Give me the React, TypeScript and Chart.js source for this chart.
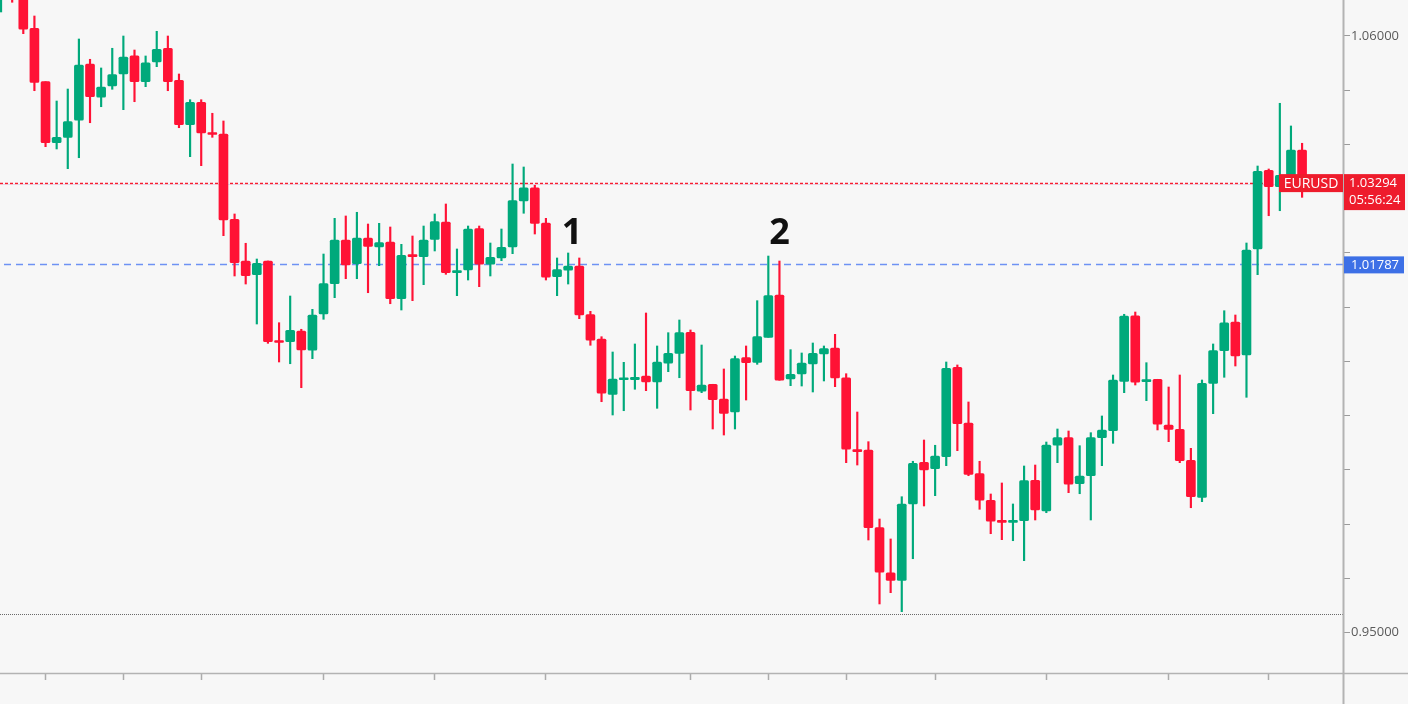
import React, { useEffect, useRef } from 'react';
import Chart from 'chart.js/auto';

// EURUSD candles, first candle sits at index -1 (partly above the chart top)
const firstIndex = -1;

const opens = [
  1.06734, 1.07121,
  1.06715, 1.06138, 1.05154, 1.04030, 1.04129, 1.04443, 1.05480, 1.04867, 1.05075, 1.05296,
  1.05633, 1.05154, 1.05517, 1.05770, 1.05180, 1.04362, 1.04774, 1.04209, 1.04190, 1.02618,
  1.01849, 1.01597, 1.01849, 1.00375, 1.00362, 1.00559, 1.00204, 1.00873, 1.01431, 1.02236,
  1.01800, 1.02273, 1.02107, 1.02200, 1.01155, 1.01954, 1.01929, 1.02249, 1.02568, 1.01634,
  1.01683, 1.02445, 1.01789, 1.01905, 1.02107, 1.02955, 1.03200, 1.02550, 1.01560, 1.01678,
  1.01757, 1.00860, 1.00412, 0.99392, 0.99660, 0.99662, 0.99730, 0.99619, 0.99964, 1.00148,
  1.00535, 0.99448, 0.99577, 0.99306, 0.99066, 1.00067, 0.99982, 1.00443, 1.01223, 0.99675,
  0.99767, 0.99951, 1.00135, 1.00246, 0.99698, 0.98366, 0.98366, 0.96934, 0.96104, 0.95964,
  0.97371, 0.98139, 0.98021, 0.98242, 0.99890, 0.98864, 0.97929, 0.97439, 0.97063, 0.97033,
  0.97063, 0.97807, 0.97242, 0.98453, 0.98593, 0.97745, 0.97892, 0.98593, 0.98722, 0.99632,
  1.00841, 0.99625, 0.99669, 0.98827, 0.98747, 0.98176, 0.97494, 0.99595, 1.00196, 1.00725,
  1.00117, 1.02071, 1.03521, 1.03219, 1.03429, 1.03895,
];

const highs = [
  1.07213, 1.07213,
  1.06807, 1.06365, 1.05154, 1.04798, 1.05019, 1.05941, 1.05567, 1.05407, 1.05770, 1.05996,
  1.05738, 1.05628, 1.06083, 1.05996, 1.05296, 1.04822, 1.04822, 1.04572, 1.04430, 1.02716,
  1.02176, 1.01886, 1.01849, 1.00712, 1.01204, 1.00591, 1.00959, 1.01978, 1.02636, 1.02679,
  1.02747, 1.02531, 1.02544, 1.02476, 1.02157, 1.02310, 1.02494, 1.02716, 1.02900, 1.02071,
  1.02494, 1.02494, 1.02181, 1.02439, 1.03637, 1.03582, 1.03245, 1.02636, 1.01905, 1.01997,
  1.01905, 1.00922, 1.00454, 1.00172, 0.99982, 1.00320, 1.00891, 1.00283, 1.00528, 1.00762,
  1.00578, 1.00301, 0.99577, 0.99859, 1.00098, 1.00283, 1.01118, 1.01941, 1.01849, 1.00215,
  1.00154, 1.00338, 1.00283, 1.00498, 0.99772, 0.99066, 0.98519, 0.97094, 0.96726, 0.97505,
  0.98158, 0.98550, 0.98453, 0.99988, 0.99933, 0.99251, 0.98158, 0.97555, 0.97758, 0.97371,
  0.98071, 0.98089, 0.98513, 0.98753, 0.98716, 0.98445, 0.98685, 0.98993, 0.99748, 1.00867,
  1.00909, 0.99975, 0.99669, 0.99527, 0.99748, 0.98397, 0.99656, 1.00320, 1.00933, 1.00854,
  1.02181, 1.03600, 1.03545, 1.04756, 1.04338, 1.04019,
];

const lows = [
  1.06439, 1.06618,
  1.06039, 1.04988, 1.03956, 1.03914, 1.03551, 1.03753, 1.04398, 1.04693, 1.05014, 1.04638,
  1.04785, 1.05062, 1.05431, 1.04988, 1.04306, 1.03772, 1.03606, 1.04129, 1.02316, 1.01573,
  1.01425, 1.00688, 1.00332, 0.99988, 0.99956, 0.99514, 1.00049, 1.00775, 1.01173, 1.01523,
  1.01523, 1.01265, 1.01763, 1.01062, 1.00946, 1.01118, 1.01413, 1.02034, 1.01604, 1.01210,
  1.01499, 1.01376, 1.01573, 1.01855, 1.01984, 1.02729, 1.02347, 1.01499, 1.01210, 1.01425,
  1.00786, 1.00296, 0.99256, 0.99011, 0.99090, 0.99485, 0.99459, 0.99134, 0.99809, 0.99698,
  0.99103, 0.99422, 0.98753, 0.98642, 0.98753, 0.99287, 0.99945, 1.00443, 0.99651, 0.99551,
  0.99545, 0.99435, 0.99638, 0.99533, 0.98132, 0.98089, 0.96707, 0.95528, 0.95736, 0.95386,
  0.96362, 0.97334, 0.97524, 0.98077, 0.98353, 0.97892, 0.97273, 0.96823, 0.96713, 0.96694,
  0.96326, 0.97076, 0.97210, 0.98132, 0.97579, 0.97560, 0.97076, 0.98077, 0.98489, 0.99422,
  0.99564, 0.99275, 0.98735, 0.98519, 0.98132, 0.97302, 0.97413, 0.99035, 0.99706, 0.99914,
  0.99337, 1.01597, 1.02684, 1.02776, 1.03379, 1.03023,
];

const closes = [
  1.07028, 1.06770,
  1.06120, 1.05143, 1.04030, 1.04129, 1.04417, 1.05462, 1.04878, 1.05056, 1.05283, 1.05609,
  1.05154, 1.05504, 1.05751, 1.05154, 1.04362, 1.04774, 1.04209, 1.04181, 1.02605, 1.01818,
  1.01578, 1.01807, 1.00362, 1.00347, 1.00572, 1.00209, 1.00854, 1.01431, 1.02236, 1.01776,
  1.02273, 1.02120, 1.02187, 1.01155, 1.01954, 1.01929, 1.02236, 1.02574, 1.01634, 1.01665,
  1.02439, 1.01789, 1.01918, 1.02102, 1.02961, 1.03200, 1.02544, 1.01549, 1.01689, 1.01757,
  1.00854, 1.00388, 0.99411, 0.99675, 0.99675, 0.99706, 0.99619, 0.99988, 1.00148, 1.00528,
  0.99459, 0.99564, 0.99293, 0.99042, 1.00049, 0.99975, 1.00454, 1.01210, 0.99651, 0.99761,
  0.99969, 1.00148, 1.00233, 0.99693, 0.98379, 0.98335, 0.96934, 0.96112, 0.95964, 0.97371,
  0.98121, 0.97997, 0.98255, 0.99872, 0.98851, 0.97918, 0.97439, 0.97052, 0.97033, 0.97063,
  0.97800, 0.97260, 0.98458, 0.98593, 0.97734, 0.97887, 0.98593, 0.98735, 0.99656, 1.00836,
  0.99614, 0.99651, 0.98840, 0.98747, 0.98169, 0.97505, 0.99595, 1.00196, 1.00712, 1.00098,
  1.02052, 1.03503, 1.03219, 1.03429, 1.03895, 1.03294,
];

const symbol = 'EURUSD';
const lastPrice = 1.03294;
const countdown = '05:56:24';
const levelPrice = 1.01787;
const swingLowPrice = 0.95343;

const markerLabels = ['1', '2'];
const markerIndex = [50.35, 69.0];
const markerBaseline = [1.02163, 1.02163];

const xTickIndex = [3, 10, 17, 28, 38, 48, 61, 68, 75, 83, 93, 104, 113];
const yTickValues = [0.95, 0.96, 0.97, 0.98, 0.99, 1.0, 1.01, 1.02, 1.03, 1.04, 1.05, 1.06];
const yLabeledTicks = [0.95, 1.06];

const xMin = -1.095;
const xMax = 119.68;
const yMin = 0.942557;
const yMax = 1.066598;

const UP = '#00a97b';
const DOWN = '#ff1235';
const BG = '#f7f7f7';
const FONT = '"Open Sans", "Noto Sans", sans-serif';

const overlayPlugin = {
  id: 'overlay',
  beforeDatasetsDraw(chart: any) {
    const { ctx, chartArea, scales } = chart;
    const y = scales.y;
    const right = chartArea.right;
    ctx.save();

    // dotted line at the swing low
    const yl = Math.round(y.getPixelForValue(swingLowPrice)) + 0.5;
    ctx.strokeStyle = '#6a6a6a';
    ctx.lineWidth = 1;
    ctx.setLineDash([1, 1]);
    ctx.beginPath();
    ctx.moveTo(0, yl);
    ctx.lineTo(right, yl);
    ctx.stroke();

    // blue dashed level
    const yb = Math.round(y.getPixelForValue(levelPrice)) + 0.5;
    ctx.strokeStyle = '#6e92f4';
    ctx.lineWidth = 1.5;
    ctx.setLineDash([7, 5]);
    ctx.beginPath();
    ctx.moveTo(4, yb);
    ctx.lineTo(right, yb);
    ctx.stroke();

    // current price line: red dashes on top, faint blue dots just below in the gaps
    const yr = Math.round(y.getPixelForValue(lastPrice));
    ctx.lineWidth = 1;
    ctx.setLineDash([1, 4]);
    ctx.lineDashOffset = -3.5;
    ctx.strokeStyle = 'rgba(120,150,240,0.55)';
    ctx.beginPath();
    ctx.moveTo(0, yr + 1.5);
    ctx.lineTo(right, yr + 1.5);
    ctx.stroke();
    ctx.setLineDash([3, 2]);
    ctx.lineDashOffset = 0;
    ctx.strokeStyle = '#f51d33';
    ctx.lineWidth = 1.5;
    ctx.beginPath();
    ctx.moveTo(0, yr + 0.5);
    ctx.lineTo(right, yr + 0.5);
    ctx.stroke();

    ctx.restore();
  },
  afterDraw(chart: any) {
    const { ctx, chartArea, scales, width, height } = chart;
    const y = scales.y;
    const x = scales.x;
    const right = chartArea.right;
    ctx.save();
    ctx.setLineDash([]);

    // axis lines
    ctx.strokeStyle = '#b3b3b3';
    ctx.lineWidth = 1.5;
    ctx.beginPath();
    ctx.moveTo(0, chartArea.bottom + 0.5);
    ctx.lineTo(width, chartArea.bottom + 0.5);
    ctx.stroke();
    ctx.lineWidth = 2;
    ctx.beginPath();
    ctx.moveTo(right + 0.5, 0);
    ctx.lineTo(right + 0.5, height);
    ctx.stroke();

    // last price tags
    const yr = y.getPixelForValue(lastPrice);
    ctx.fillStyle = '#ee1c2c';
    ctx.fillRect(right - 64, yr - 8.5, 64, 18);
    ctx.fillRect(right + 1, yr - 8.5, 61, 36);
    ctx.fillStyle = '#ffffff';
    ctx.font = `14px ${FONT}`;
    ctx.textBaseline = 'middle';
    ctx.textAlign = 'center';
    ctx.fillText(symbol, right - 32, yr + 1);
    ctx.textAlign = 'left';
    ctx.font = `13px ${FONT}`;
    ctx.fillText(lastPrice.toFixed(5), right + 6, yr + 1);
    ctx.fillText(countdown, right + 6, yr + 18);

    // level tag
    const yb = y.getPixelForValue(levelPrice);
    ctx.fillStyle = '#3d70e6';
    ctx.fillRect(right + 1, yb - 8, 60, 17);
    ctx.fillStyle = '#ffffff';
    ctx.fillText(levelPrice.toFixed(5), right + 8, yb + 1);

    // swing markers
    ctx.fillStyle = '#111111';
    ctx.font = `bold 36px ${FONT}`;
    ctx.textAlign = 'center';
    ctx.textBaseline = 'alphabetic';
    markerLabels.forEach((t, i) => {
      ctx.fillText(t, x.getPixelForValue(markerIndex[i]), y.getPixelForValue(markerBaseline[i]));
    });

    ctx.restore();
  },
};

const App: React.FC = () => {
  const chartRef = useRef<HTMLCanvasElement>(null);
  const chartInstance = useRef<Chart | null>(null);

  useEffect(() => {
    if (!chartRef.current) return;
    if (chartInstance.current) {
      chartInstance.current.destroy();
    }
    const ctx = chartRef.current.getContext('2d');
    if (!ctx) return;

    const idx = opens.map((_, i) => firstIndex + i);
    const colors = opens.map((o, i) => (closes[i] >= o ? UP : DOWN));

    chartInstance.current = new Chart(ctx, {
      type: 'bar',
      data: {
        datasets: [
          {
            label: 'wick',
            data: idx.map((v, i) => ({ x: v, y: [lows[i], highs[i]] })) as any,
            backgroundColor: colors,
            barThickness: 1.5,
            grouped: false,
            order: 2,
          },
          {
            label: 'body',
            data: idx.map((v, i) => ({ x: v, y: [opens[i], closes[i]] })) as any,
            backgroundColor: colors,
            barThickness: 9,
            grouped: false,
            borderRadius: 1.5,
            borderSkipped: false,
            minBarLength: 2,
            order: 1,
          },
        ],
      },
      options: {
        animation: false,
        responsive: true,
        maintainAspectRatio: false,
        layout: { padding: 0 },
        plugins: {
          legend: { display: false },
          tooltip: { enabled: false },
        },
        scales: {
          x: {
            type: 'linear',
            min: xMin,
            max: xMax,
            offset: false,
            afterBuildTicks: (s: any) => {
              s.ticks = xTickIndex.map((v) => ({ value: v }));
            },
            afterFit: (s: any) => {
              s.height = 31;
              s.paddingLeft = 0;
              s.paddingRight = 0;
            },
            ticks: { autoSkip: false, callback: () => '' },
            grid: {
              offset: false,
              drawOnChartArea: false,
              tickLength: 7,
              tickColor: '#ababab',
              tickWidth: 1.5,
            },
            border: { display: false },
          },
          y: {
            position: 'right',
            min: yMin,
            max: yMax,
            afterBuildTicks: (s: any) => {
              s.ticks = yTickValues.map((v) => ({ value: v }));
            },
            afterFit: (s: any) => {
              s.width = 65;
              s.paddingTop = 0;
              s.paddingBottom = 0;
            },
            ticks: {
              autoSkip: false,
              padding: 1,
              color: '#5a5a5a',
              font: { family: FONT, size: 13 },
              callback: (v: any) =>
                yLabeledTicks.some((l) => Math.abs(l - Number(v)) < 1e-6) ? Number(v).toFixed(5) : '',
            },
            grid: { drawOnChartArea: false, tickLength: 7, tickColor: '#9b9b9b', tickWidth: 1 },
            border: { display: false },
          },
        },
      },
      plugins: [overlayPlugin],
    });

    return () => {
      if (chartInstance.current) {
        chartInstance.current.destroy();
        chartInstance.current = null;
      }
    };
  }, []);

  return (
    <div style={{ position: 'fixed', left: 0, top: 0, width: 1408, height: 704, background: BG }}>
      <canvas ref={chartRef}></canvas>
    </div>
  );
};

export default App;
